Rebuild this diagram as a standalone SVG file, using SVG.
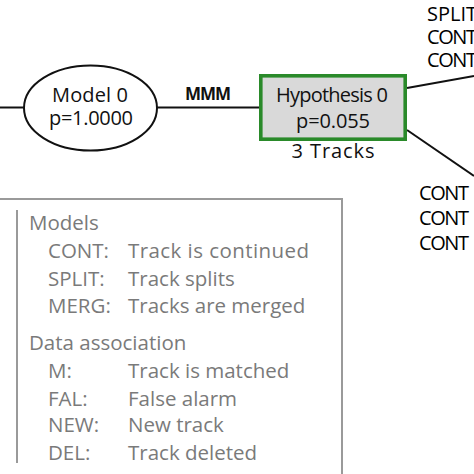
<svg xmlns="http://www.w3.org/2000/svg" width="474" height="474" viewBox="0 0 474 474">
<style>
text{font-family:"Open Sans","DejaVu Sans",sans-serif;}
.n{font-size:20px;fill:#111;}
.lbl{font-size:20px;fill:#000;}
.lg{font-size:20.5px;fill:#7a7a7a;}
.c{stroke:#111;stroke-width:2;fill:none;}
</style>
<rect width="474" height="474" fill="#fff"/>
<g id="connectors">
<line class="c" x1="0" y1="107.5" x2="24" y2="107.5"/>
<line class="c" x1="157" y1="107.5" x2="259" y2="107.5"/>
<line class="c" x1="407" y1="88" x2="474" y2="76"/>
<line class="c" x1="407" y1="130" x2="474" y2="176"/>
<text x="208" y="100" text-anchor="middle" style="font-size:17px;font-weight:bold;fill:#111" textLength="46">MMM</text>
</g>
<g id="model0">
<ellipse cx="90.5" cy="108" rx="66.5" ry="42.5" fill="#fff" stroke="#111" stroke-width="2"/>
<text class="n" x="90" y="102" text-anchor="middle" textLength="76">Model 0</text>
<text class="n" x="91" y="125" text-anchor="middle" textLength="84">p=1.0000</text>
</g>
<g id="hypothesis0">
<rect x="260.8" y="75.8" width="144.4" height="63.4" fill="#d9d9d9" stroke="#2a8a2a" stroke-width="3.6"/>
<text class="n" x="332" y="102" text-anchor="middle" textLength="112">Hypothesis 0</text>
<text class="n" x="333" y="128" text-anchor="middle" textLength="74">p=0.055</text>
<text class="n" x="333" y="158" text-anchor="middle" textLength="83">3 Tracks</text>
</g>
<g id="labels-upper">
<text class="lbl" x="427" y="21">SPLIT</text>
<text class="lbl" x="427" y="44" textLength="50">CONT</text>
<text class="lbl" x="427" y="67" textLength="50">CONT</text>
</g>
<g id="labels-lower">
<text class="lbl" x="419" y="200" textLength="50">CONT</text>
<text class="lbl" x="419" y="225" textLength="50">CONT</text>
<text class="lbl" x="419" y="250" textLength="50">CONT</text>
</g>
<g id="legend">
<rect x="-10" y="199" width="352" height="300" fill="none" stroke="#9a9a9a" stroke-width="2"/>
<line x1="17" y1="210" x2="17" y2="463" stroke="#9a9a9a" stroke-width="2"/>
<text class="lg" x="29" y="230">Models</text>
<text class="lg" x="48" y="258">CONT:</text>
<text class="lg" x="128" y="258" textLength="181">Track is continued</text>
<text class="lg" x="48" y="286">SPLIT:</text>
<text class="lg" x="128" y="286">Track splits</text>
<text class="lg" x="48" y="313">MERG:</text>
<text class="lg" x="128" y="313">Tracks are merged</text>
<text class="lg" x="29" y="350">Data association</text>
<text class="lg" x="48" y="378">M:</text>
<text class="lg" x="128" y="378">Track is matched</text>
<text class="lg" x="48" y="406">FAL:</text>
<text class="lg" x="128" y="406">False alarm</text>
<text class="lg" x="48" y="432">NEW:</text>
<text class="lg" x="128" y="432">New track</text>
<text class="lg" x="48" y="460">DEL:</text>
<text class="lg" x="128" y="460">Track deleted</text>
</g>
</svg>
